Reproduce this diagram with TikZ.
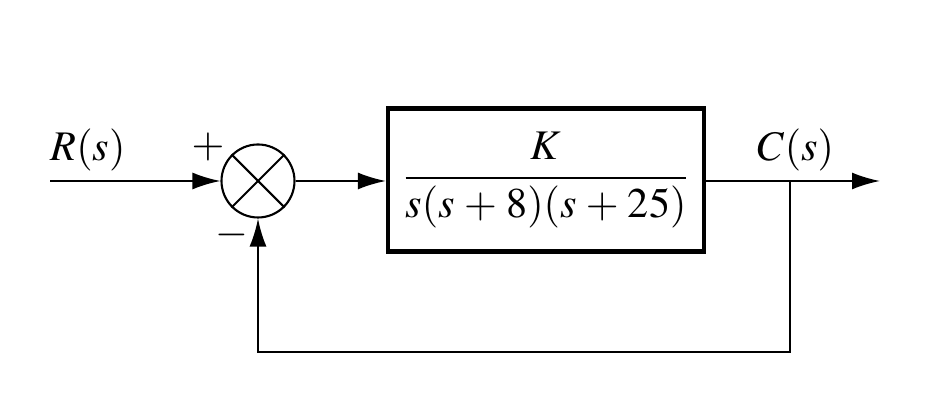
\documentclass[tikz,border=0pt]{standalone}
\usepackage{amsmath}
\usepackage{mathptmx}
\usepackage[no-math]{fontspec}
\setmainfont{Liberation Serif}
\usepackage{tikz}
\usetikzlibrary{arrows.meta}
\usetikzlibrary{positioning}

\begin{document}
\begin{tikzpicture}[font=\fontsize{12}{14}\selectfont,line width=0.6pt,
  sig/.style={-{Latex[length=2.8mm,width=1.7mm]}},
  sumnode/.style={draw,circle,minimum size=7.3mm,inner sep=0pt},
  plantbox/.style={draw,line width=1.2pt,minimum width=3.16cm,minimum height=1.43cm,inner sep=0pt}]
  \useasboundingbox (0,0) rectangle (9.44,4.02);
  \coordinate (in) at (0.50,2.21);
  \node[sumnode] (sum) at (2.58,2.21){};
  \node[plantbox] (plant) at (5.46,2.22){$\dfrac{K}{s(s\mkern1.5mu+\mkern1.5mu8)(s\mkern1.5mu+\mkern1.5mu25)}$};
  \coordinate (br) at (7.90,2.21);
  \coordinate (out) at (8.80,2.21);
  \coordinate (fb) at (7.90,0.50);
  \node (r) at (0.88,2.52){$R(s)$};
  \node (c) at (7.96,2.52){$C(s)$};
  \node (plus) at (2.08,2.55){$+$};
  \node (minus) at (2.32,1.67){$-$};
  \draw(sum.45)--(sum.225);
  \draw(sum.135)--(sum.315);
  \draw[sig](in)--(sum.west);
  \draw[sig](sum.east)--(sum.east-|plant.west);
  \draw[sig](plant.east|-out)--(out);
  \draw[sig](br)--(fb)-|(sum.south);
\end{tikzpicture}
\end{document}
